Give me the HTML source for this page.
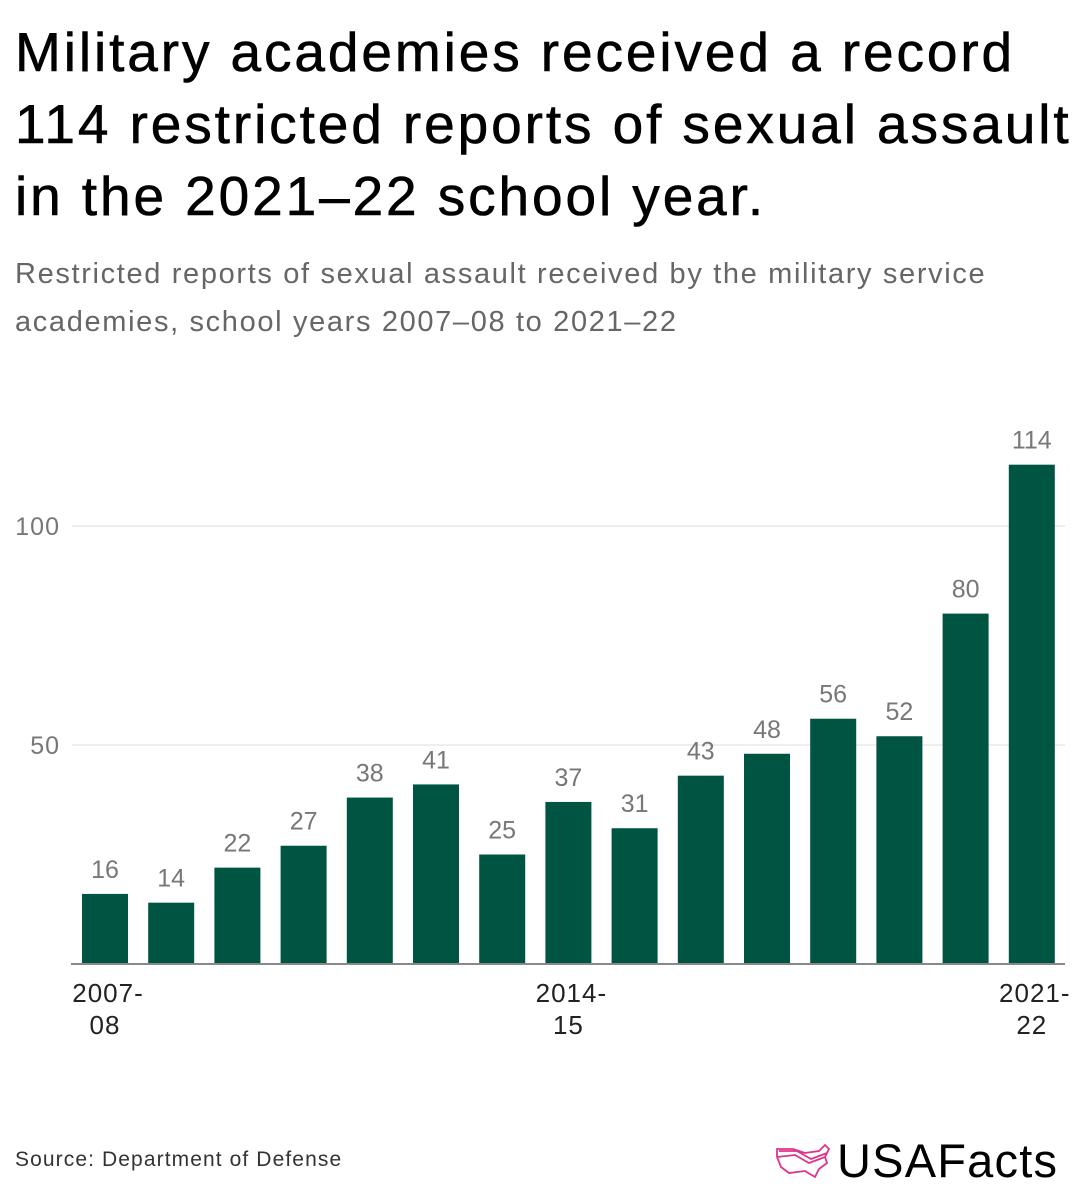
<!DOCTYPE html>
<html><head><meta charset="utf-8"><style>
body{margin:0;width:1080px;height:1196px;background:#fff;font-family:"Liberation Sans",sans-serif;position:relative;overflow:hidden}
h1{position:absolute;left:15px;top:16px;margin:0;font-size:55px;line-height:72px;font-weight:500;color:#000;letter-spacing:2.9px;white-space:nowrap;-webkit-text-stroke:0.6px #000}
.sub{position:absolute;left:15px;top:250px;font-size:29px;line-height:48px;color:#666;letter-spacing:1.65px;white-space:nowrap}
.src{position:absolute;left:15px;top:1148px;font-size:21px;color:#333;letter-spacing:1.1px}
.logo{position:absolute;left:775px;top:1133px;font-size:47px;font-weight:500;color:#000;letter-spacing:1.2px}
</style></head><body>
<h1>Military academies received a record<br>114 restricted reports of sexual assault<br>in the 2021–22 school year.</h1>
<div class="sub">Restricted reports of sexual assault received by the military service<br>academies, school years 2007–08 to 2021–22</div>
<svg id="chart" width="1080" height="1196" style="position:absolute;left:0;top:0"></svg>
<div class="src">Source: Department of Defense</div>
<div class="logo"><svg width="56" height="40" viewBox="0 0 56 40" style="vertical-align:-4px;margin-right:6px"><path d="M2 8 L18 8 L30 12 L44 10 L50 4 L54 8 L50 16 L52 22 L44 28 L40 36 L30 30 L14 32 L6 26 L2 16 Z M2 16 L20 14 L34 22 L50 16 M4 10 L22 10 L36 18 L52 12" fill="none" stroke="#e0338a" stroke-width="1.8"/></svg>USAFacts</div>
<script>
const categories=["2007-08","2008-09","2009-10","2010-11","2011-12","2012-13","2013-14","2014-15","2015-16","2016-17","2017-18","2018-19","2019-20","2020-21","2021-22"];
const values=[16,14,22,27,38,41,25,37,31,43,48,56,52,80,114];
const yTicks=[50,100];
const xLabelIdx=[0,7,14];
const svg=document.getElementById('chart');
const NS='http://www.w3.org/2000/svg';
const base=964,pxPer=4.38,x0=82,step=66.2,bw=46;
const y=v=>base-v*pxPer;
const x=i=>x0+i*step;
function mk(t,a){const e=document.createElementNS(NS,t);for(const k in a)e.setAttribute(k,a[k]);svg.appendChild(e);return e;}
yTicks.forEach(t=>{
  const l=mk('line',{x1:72,x2:1065,y1:y(t),y2:y(t),stroke:'#ddd','stroke-width':1});
  
  
  const tx=mk('text',{x:60,y:y(t)+9,'text-anchor':'end','font-size':25,fill:'#777','font-family':'Liberation Sans','letter-spacing':1});
  tx.textContent=t;
  
  
});
values.forEach((v,i)=>{
  const r=mk('rect',{x:x(i),y:y(v),width:bw,height:v*pxPer,fill:'#005542'});
  
  
  const t=mk('text',{x:x(i)+bw/2,y:y(v)-16,'text-anchor':'middle','font-size':25,fill:'#777','font-family':'Liberation Sans'});
  t.textContent=v;
  
  
});
const ax=mk('line',{x1:71,x2:1065,y1:base,y2:base,stroke:'#888','stroke-width':2});


xLabelIdx.forEach(i=>{
  const p=categories[i].split('-');
  [p[0]+'-',p[1]].forEach((s,j)=>{
    const t=mk('text',{x:x(i)+bw/2+(j==0?3:0),y:1002+j*32,'text-anchor':'middle','font-size':26,fill:'#222','font-family':'Liberation Sans','letter-spacing':1});
    t.textContent=s;
    
    
  });
});
</script>
</body></html>
